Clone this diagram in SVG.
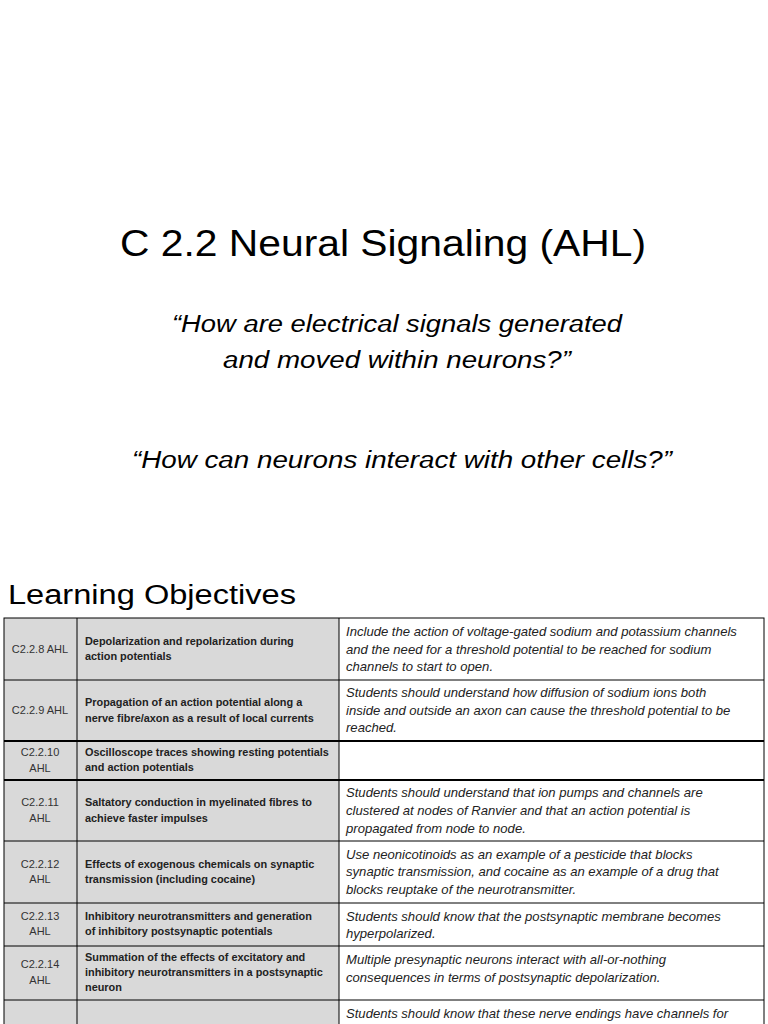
<svg xmlns="http://www.w3.org/2000/svg" width="768" height="1024" viewBox="0 0 768 1024">
<style>
text{font-family:"Liberation Sans",Arial,sans-serif;fill:#000}
.t{font-size:36px}
.q{font-size:23px;font-style:italic}
.h{font-size:27px}
.c{font-size:11px;text-anchor:middle;fill:#333}
.b{font-size:10.9px;font-weight:bold;fill:#222}
.i{font-size:13.1px;font-style:italic;fill:#222}
.g{fill:#d9d9d9}
</style>
<rect width="768" height="1024" fill="#fff"/>
<g id="title">
<text class="t" x="383" y="256" text-anchor="middle" textLength="526" lengthAdjust="spacingAndGlyphs">C 2.2 Neural Signaling (AHL)</text>
<text class="q" x="397" y="332" text-anchor="middle" textLength="450" lengthAdjust="spacingAndGlyphs">“How are electrical signals generated</text>
<text class="q" x="397" y="368" text-anchor="middle" textLength="348" lengthAdjust="spacingAndGlyphs">and moved within neurons?”</text>
<text class="q" x="402" y="468" text-anchor="middle" textLength="540" lengthAdjust="spacingAndGlyphs">“How can neurons interact with other cells?”</text>
<text class="h" x="8" y="604" textLength="288" lengthAdjust="spacingAndGlyphs">Learning Objectives</text>
</g>
<g id="table">
<rect class="g" x="4" y="618" width="335" height="406"/>
<g stroke="#000" stroke-width="1" fill="none">
<rect x="4" y="618" width="760" height="420"/>
<line x1="77" y1="618" x2="77" y2="1024"/>
<line x1="339" y1="618" x2="339" y2="1024"/>
<line x1="4" y1="680" x2="764" y2="680"/>
<line x1="4" y1="741" x2="764" y2="741" stroke-width="2"/>
<line x1="4" y1="780" x2="764" y2="780" stroke-width="2"/>
<line x1="4" y1="841" x2="764" y2="841"/>
<line x1="4" y1="903" x2="764" y2="903"/>
<line x1="4" y1="946" x2="764" y2="946"/>
<line x1="4" y1="1000" x2="764" y2="1000"/>
</g>
<g id="r1">
<text class="c" x="40" y="653">C2.2.8 AHL</text>
<text class="b" x="85" y="645">Depolarization and repolarization during</text>
<text class="b" x="85" y="660">action potentials</text>
<text class="i" x="346" y="636">Include the action of voltage-gated sodium and potassium channels</text>
<text class="i" x="346" y="654">and the need for a threshold potential to be reached for sodium</text>
<text class="i" x="346" y="671">channels to start to open.</text>
</g>
<g id="r2">
<text class="c" x="40" y="714">C2.2.9 AHL</text>
<text class="b" x="85" y="706">Propagation of an action potential along a</text>
<text class="b" x="85" y="722">nerve fibre/axon as a result of local currents</text>
<text class="i" x="346" y="697">Students should understand how diffusion of sodium ions both</text>
<text class="i" x="346" y="715">inside and outside an axon can cause the threshold potential to be</text>
<text class="i" x="346" y="732">reached.</text>
</g>
<g id="r3">
<text class="c" x="40" y="756">C2.2.10</text>
<text class="c" x="40" y="772">AHL</text>
<text class="b" x="85" y="756">Oscilloscope traces showing resting potentials</text>
<text class="b" x="85" y="771">and action potentials</text>
</g>
<g id="r4">
<text class="c" x="40" y="806">C2.2.11</text>
<text class="c" x="40" y="822">AHL</text>
<text class="b" x="85" y="806">Saltatory conduction in myelinated fibres to</text>
<text class="b" x="85" y="822">achieve faster impulses</text>
<text class="i" x="346" y="797">Students should understand that ion pumps and channels are</text>
<text class="i" x="346" y="815">clustered at nodes of Ranvier and that an action potential is</text>
<text class="i" x="346" y="833">propagated from node to node.</text>
</g>
<g id="r5">
<text class="c" x="40" y="868">C2.2.12</text>
<text class="c" x="40" y="883">AHL</text>
<text class="b" x="85" y="868">Effects of exogenous chemicals on synaptic</text>
<text class="b" x="85" y="883">transmission (including cocaine)</text>
<text class="i" x="346" y="859">Use neonicotinoids as an example of a pesticide that blocks</text>
<text class="i" x="346" y="876">synaptic transmission,  and cocaine as an example of a drug that</text>
<text class="i" x="346" y="894">blocks reuptake of the neurotransmitter.</text>
</g>
<g id="r6">
<text class="c" x="40" y="920">C2.2.13</text>
<text class="c" x="40" y="935">AHL</text>
<text class="b" x="85" y="920">Inhibitory neurotransmitters and generation</text>
<text class="b" x="85" y="935">of inhibitory postsynaptic potentials</text>
<text class="i" x="346" y="921">Students should know that the postsynaptic membrane becomes</text>
<text class="i" x="346" y="938">hyperpolarized.</text>
</g>
<g id="r7">
<text class="c" x="40" y="968">C2.2.14</text>
<text class="c" x="40" y="984">AHL</text>
<text class="b" x="85" y="961">Summation of the effects of excitatory and</text>
<text class="b" x="85" y="976">inhibitory neurotransmitters in a postsynaptic</text>
<text class="b" x="85" y="991">neuron</text>
<text class="i" x="346" y="964">Multiple presynaptic neurons interact with all-or-nothing</text>
<text class="i" x="346" y="982">consequences in terms of postsynaptic depolarization.</text>
</g>
<g id="r8">
<text class="i" x="346" y="1018">Students should know that these nerve endings have channels for</text>
</g>
</g>
</svg>
